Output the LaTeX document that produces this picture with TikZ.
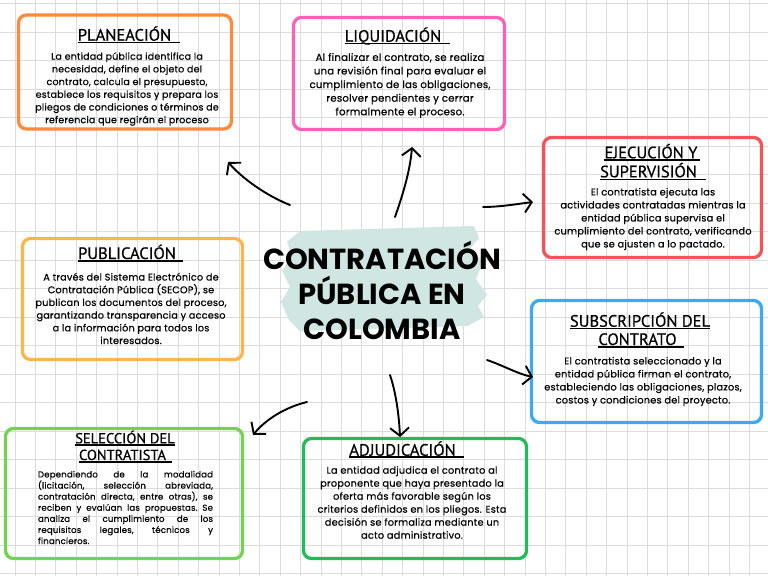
\documentclass[tikz,border=0pt]{standalone}
\usepackage{fontspec}
\setmainfont{Poppins}[FakeBold=0.5,LetterSpace=2]
\newfontfamily\ttlfont[FakeBold=0.6]{PT Sans}
\newfontfamily\bigfont{Poppins}
\usetikzlibrary{arrows.meta}
\definecolor{gridc}{HTML}{DCDCDC}
\definecolor{cPlan}{HTML}{FF8A3D}
\definecolor{cLiq}{HTML}{FA62B6}
\definecolor{cEje}{HTML}{F2545B}
\definecolor{cPub}{HTML}{FFB54C}
\definecolor{cSub}{HTML}{3DA9F2}
\definecolor{cSel}{HTML}{72D34E}
\definecolor{cAdj}{HTML}{22BB5A}
\definecolor{cBlob}{HTML}{CFE6E2}
\begin{document}
\begin{tikzpicture}[x=1pt,y=-1pt,
  gridline/.style={draw=gridc, line width=0.7pt},
  box/.style={draw=#1, line width=3.3pt, rounded corners=8pt, inner sep=0pt},
  body/.style={font=\fontsize{9.8}{13}\selectfont, align=center, inner sep=0pt},
  ttl/.style={font=\ttlfont\fontsize{16.5}{18}\selectfont, anchor=base, inner sep=0pt},
  ttls/.style={font=\ttlfont\fontsize{14.5}{16}\selectfont, anchor=base, inner sep=0pt},
  ul/.style={line width=1.5pt},
  arr/.style={line width=1.9pt, line cap=round, -{Straight Barb[length=8pt,width=19pt]}}
]
\useasboundingbox (0,0) rectangle (768,576);
\fill[white] (0,0) rectangle (768,576);
% grid
\foreach \i in {0,...,36} \draw[gridline] (15+20.4*\i,0) -- (15+20.4*\i,576);
\foreach \j in {0,...,20} \draw[gridline] (0,3.5+28.5*\j) -- (768,3.5+28.5*\j);

% central blob and title
\fill[cBlob] (300,231) -- (474,226) -- (479,238) -- (470,249) -- (483,262) -- (476,279)
  -- (487,295) -- (478,306) -- (484,317) -- (468,326) -- (300,331) -- (289,320)
  -- (281,302) -- (290,287) -- (282,271) -- (292,256) -- (287,242) -- cycle;
\node[font=\bigfont\bfseries\fontsize{29}{35}\selectfont, align=center, inner sep=0pt]
  (center) at (382,290) {CONTRATACIÓN\\PÚBLICA EN\\COLOMBIA};

% boxes
\node[box=cPlan, minimum width=213pt, minimum height=114pt] (plan) at (125,72) {};
\node[box=cLiq,  minimum width=211pt, minimum height=112pt] (liq)  at (399,73.5) {};
\node[box=cEje,  minimum width=218pt, minimum height=120pt] (eje)  at (652.5,197.5) {};
\node[box=cPub,  minimum width=220pt, minimum height=121pt] (pub)  at (132.5,299) {};
\node[box=cSub,  minimum width=230pt, minimum height=122pt] (sub)  at (646.5,361.5) {};
\node[box=cSel,  minimum width=237pt, minimum height=130pt] (sel)  at (124,493.5) {};
\node[box=cAdj,  minimum width=223pt, minimum height=120pt] (adj)  at (415,498.5) {};

% titles
\node[ttl] (planT) at (124.5,40.7) {PLANEACIÓN};
\draw[ul] ([yshift=-2pt]planT.base west) -- ([xshift=9pt,yshift=-2pt]planT.base east);
\node[ttl] (liqT) at (393,41.7) {LIQUIDACIÓN};
\draw[ul] ([yshift=-2pt]liqT.base west) -- ([xshift=9pt,yshift=-2pt]liqT.base east);
\node[ttl] (ejeT1) at (651,158.3) {EJECUCIÓN Y};
\draw[ul] ([yshift=-1.5pt]ejeT1.base west) -- ([xshift=2pt,yshift=-1.5pt]ejeT1.base east);
\node[ttl] (ejeT2) at (648.5,177.3) {SUPERVISIÓN};
\draw[ul] ([yshift=-2pt]ejeT2.base west) -- ([xshift=9pt,yshift=-2pt]ejeT2.base east);
\node[ttl] (pubT) at (127,259) {PUBLICACIÓN};
\draw[ul] ([yshift=-2pt]pubT.base west) -- ([xshift=7pt,yshift=-2pt]pubT.base east);
\node[ttl] (subT1) at (640,326.7) {SUBSCRIPCIÓN DEL};
\draw[ul] ([yshift=-1.8pt]subT1.base west) -- ([yshift=-1.8pt]subT1.base east);
\node[ttl] (subT2) at (637.5,345) {CONTRATO};
\draw[ul] ([yshift=-1.8pt]subT2.base west) -- ([xshift=7pt,yshift=-1.8pt]subT2.base east);
\node[ttls] (selT1) at (125,443.3) {SELECCIÓN DEL};
\draw[ul] ([yshift=-1.8pt]selT1.base west) -- ([yshift=-1.8pt]selT1.base east);
\node[ttls] (selT2) at (122.5,460) {CONTRATISTA};
\draw[ul] ([yshift=-2pt]selT2.base west) -- ([xshift=6pt,yshift=-2pt]selT2.base east);
\node[ttl] (adjT) at (402.5,455.7) {ADJUDICACIÓN};
\draw[ul] ([yshift=-1.5pt]adjT.base west) -- ([xshift=8pt,yshift=-1.5pt]adjT.base east);

% bodies
\node[body, font=\fontsize{9.5}{12.7}\selectfont] (planB) at (127,89) {La entidad pública identifica la\\necesidad, define el objeto del\\contrato, calcula el presupuesto,\\establece los requisitos y prepara los\\pliegos de condiciones o términos de\\referencia que regirán el proceso};
\node[body, font=\fontsize{10.2}{13.6}\selectfont] (liqB) at (400,85.5) {Al finalizar el contrato, se realiza\\una revisión final para evaluar el\\cumplimiento de las obligaciones,\\resolver pendientes y cerrar\\formalmente el proceso.};
\node[body] (ejeB) at (653,219) {El contratista ejecuta las\\actividades contratadas mientras la\\entidad pública supervisa el\\cumplimiento del contrato, verificando\\que se ajusten a lo pactado.};
\node[body, font=\fontsize{9.7}{12.7}\selectfont] (pubB) at (131,308.5) {A través del Sistema Electrónico de\\Contratación Pública (SECOP), se\\publican los documentos del proceso,\\garantizando transparencia y acceso\\a la información para todos los\\interesados.};
\node[body] (subB) at (643,381.5) {El contratista seleccionado y la\\entidad pública firman el contrato,\\estableciendo las obligaciones, plazos,\\costos y condiciones del proyecto.};
\node[body, font=\fontsize{8.6}{11.1}\selectfont, align=left] (selB) at (125.5,507.5)
  {\hbox to 175pt{Dependiendo\hfill de\hfill la\hfill modalidad}\\
   \hbox to 175pt{(licitación,\hfill selección\hfill abreviada,}\\
   \hbox to 175pt{contratación\hfill directa,\hfill entre\hfill otras),\hfill se}\\
   \hbox to 175pt{reciben\hfill y\hfill evalúan\hfill las\hfill propuestas.\hfill Se}\\
   \hbox to 175pt{analiza\hfill el\hfill cumplimiento\hfill de\hfill los}\\
   \hbox to 175pt{requisitos\hfill legales,\hfill técnicos\hfill y}\\
   \hbox to 175pt{financieros.\hfill}};
\node[body] (adjB) at (412,502.5) {La entidad adjudica el contrato al\\proponente que haya presentado la\\oferta más favorable según los\\criterios definidos en los pliegos. Esta\\decisión se formaliza mediante un\\acto administrativo.};

% arrow end points
\coordinate (a1s) at (290,205); \coordinate (a1e) at (228,162);
\coordinate (a2s) at (395,217); \coordinate (a2e) at (412,147);
\coordinate (a3s) at (483,207); \coordinate (a3e) at (533,202);
\coordinate (a4s) at (487,360); \coordinate (a4e) at (533,377);
\coordinate (a5s) at (390,375); \coordinate (a5e) at (400,437);
\coordinate (a6s) at (307,402); \coordinate (a6e) at (253,435);
\draw[arr] (a1s) .. controls (265,195) and (242,178) .. (a1e);
\draw[arr] (a2s) .. controls (402,197) and (410,172) .. (a2e);
\draw[arr] (a3s) .. controls (500,207) and (517,204) .. (a3e);
\draw[arr] (a4s) .. controls (502,365) and (518,374) .. (a4e);
\draw[arr] (a5s) .. controls (396,393) and (399,415) .. (a5e);
\draw[arr] (a6s) .. controls (286,407) and (266,419) .. (a6e);
\end{tikzpicture}
\end{document}
